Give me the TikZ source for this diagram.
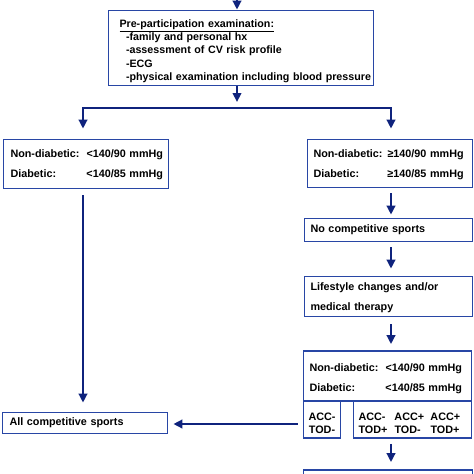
\documentclass[tikz,border=0pt]{standalone}
\usepackage{fontspec}
\setmainfont{Liberation Sans}
\usetikzlibrary{arrows.meta}
\definecolor{boxblue}{RGB}{40,70,165}
\definecolor{navy}{RGB}{15,35,125}
\newcommand{\rowtxt}[3]{\makebox[0pt][l]{\makebox[#1][l]{#2}#3}}
\tikzset{
  box/.style={draw=boxblue, line width=1.8pt, inner ysep=0pt, align=left,
    font=\fontsize{10.8}{13.3}\selectfont\bfseries},
  arr/.style={draw=navy, line width=2.6pt, -{Triangle[length=9pt,width=8.5pt]}},
}
\begin{document}
\begin{tikzpicture}[x=1pt,y=-1pt]
\clip (0,0) rectangle (474,474);
\fill[white] (0,0) rectangle (474,474);
% boxes
\node[box, minimum width=265pt, minimum height=75pt, text width=257pt, inner xsep=4pt,
  font=\fontsize{10.7}{13.3}\selectfont\bfseries] (pre) at (241,48)
 {\rule{0pt}{14pt}\hspace*{7pt}\underline{Pre-participation examination:}\\
  \hspace*{13.5pt}-family and personal hx\\
  \hspace*{13.5pt}-assessment of CV risk profile\\
  \hspace*{13.5pt}-ECG\\
  \hspace*{13.5pt}\makebox[0pt][l]{-physical examination including blood pressure}};
\node[box, minimum width=165pt, minimum height=49pt, text width=151pt, inner xsep=7pt] (L1) at (86,164)
 {\rule{0pt}{10pt}\rowtxt{76pt}{Non-diabetic:}{<140/90 mmHg}\\[6.7pt]\rowtxt{76pt}{Diabetic:}{<140/85 mmHg}};
\node[box, minimum width=165pt, minimum height=48pt, text width=153pt, inner xsep=6pt] (R1) at (390,163.5)
 {\rule{0pt}{10pt}\rowtxt{74pt}{Non-diabetic:}{≥140/90 mmHg}\\[6.7pt]\rowtxt{74pt}{Diabetic:}{≥140/85 mmHg}};
\node[box, minimum width=165pt, minimum height=21pt, text width=151pt, inner xsep=7pt] (all) at (85,423)
 {All competitive sports};
\node[box, minimum width=168pt, minimum height=23pt, text width=156pt, inner xsep=6pt] (nocomp) at (388.5,230)
 {No competitive sports};
\node[box, minimum width=168pt, minimum height=40pt, text width=156pt, inner xsep=6pt] (life) at (388.5,296.5)
 {\rule{0pt}{11pt}Lifestyle changes and/or\\[6.5pt]medical therapy};
\node[box, minimum width=168pt, minimum height=50pt, text width=156pt, inner xsep=6pt] (R3) at (387.5,376)
 {\rule{0pt}{13pt}\rowtxt{76pt}{Non-diabetic:}{<140/90 mmHg}\\[6.7pt]\rowtxt{76pt}{Diabetic:}{<140/85 mmHg}};
\node[box, minimum width=37pt, minimum height=37pt, text width=29pt, inner xsep=4pt, align=center] (subA) at (322,419.5)
 {\rule{0pt}{15pt}ACC-\\TOD-};
\node[box, minimum width=118pt, minimum height=37pt, text width=108pt, inner xsep=5pt] (subB) at (412.5,419.5)
 {\rule{0pt}{15pt}\makebox[36pt][l]{ACC-}\makebox[36pt][l]{ACC+}ACC+\\
  \makebox[36pt][l]{TOD+}\makebox[36pt][l]{TOD-}TOD+};
\node[box, minimum width=169pt, minimum height=40pt] (final) at (388,490) {};
% coordinates
\coordinate (top) at (237,0);
\coordinate (barM) at (237,108);
\coordinate (barL) at (83,108);
\coordinate (barR) at (391,108);
\coordinate (hy) at (0,424);
% connectors
\draw[arr] (top) -- (top |- pre.north);
\draw[arr, shorten >=6pt] (top |- pre.south) -- (barM);
\draw[navy, line width=2.6pt, {Triangle[length=9pt,width=8.5pt]}-{Triangle[length=9pt,width=8.5pt]}, shorten <=10pt, shorten >=10pt]
  (barL |- L1.north) -- (barL) -- (barR) -- (barR |- R1.north);
\draw[arr, shorten <=6pt, shorten >=9pt] (L1.south -| barL) -- (all.north -| barL);
\draw[arr, shorten <=5pt, shorten >=3pt] (R1.south -| barR) -- (nocomp.north -| barR);
\draw[arr, shorten <=5pt, shorten >=7pt] (nocomp.south -| barR) -- (life.north -| barR);
\draw[arr, shorten <=7pt, shorten >=6pt] (life.south -| barR) -- (R3.north -| barR);
\draw[arr, shorten <=5pt, shorten >=5pt] (subA.west |- hy) -- (all.east |- hy);
\draw[arr, shorten <=5pt, shorten >=7pt] (subB.south -| barR) -- (final.north -| barR);
\end{tikzpicture}
\end{document}
